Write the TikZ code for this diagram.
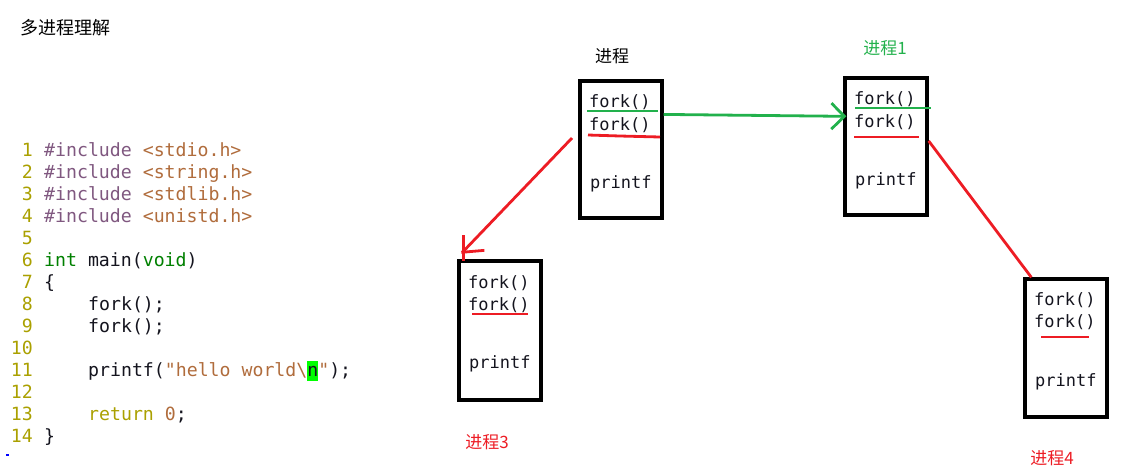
\documentclass[tikz,border=0pt]{standalone}
\usepackage{fontspec}
\usetikzlibrary{arrows.meta,calc}
\newfontfamily\codefont{DejaVu Sans Mono}
\newfontfamily\cjkfont{Noto Sans CJK SC}
\definecolor{lnum}{RGB}{170,160,0}
\definecolor{preproc}{RGB}{128,88,128}
\definecolor{strcol}{RGB}{176,108,60}
\definecolor{kwgreen}{RGB}{0,128,0}
\definecolor{hlgreen}{RGB}{0,255,0}
\definecolor{pred}{RGB}{237,28,36}
\definecolor{pgreen}{RGB}{34,177,76}
\definecolor{txtdark}{RGB}{20,20,30}
\tikzset{
  lno/.style={anchor=base east,inner sep=0pt,font=\codefont\fontsize{18.2}{20}\selectfont,text=lnum},
  code/.style={anchor=base west,inner sep=0pt,font=\codefont\fontsize{18.2}{20}\selectfont,text=txtdark},
  procbox/.style={draw=black,line width=3.3pt,minimum width=82pt,inner sep=0pt},
  btxt/.style={anchor=base west,inner sep=0pt,font=\codefont\fontsize{17}{20}\selectfont,text=txtdark},
  label/.style={inner sep=0pt,font=\cjkfont\fontsize{17}{20}\selectfont},
  redline/.style={draw=pred,line width=2.8pt},
  greenline/.style={draw=pgreen,line width=2.8pt},
}
\begin{document}
\begin{tikzpicture}[x=1pt,y=-1pt]
\useasboundingbox (0,0) rectangle (1128,475);
% title
\node[label,anchor=west,font=\cjkfont\fontsize{18}{20}\selectfont] (title) at (20,28) {多进程理解};
% code listing
\foreach \i/\n in {1/1,2/2,3/3,4/4,5/5,6/6,7/7,8/8,9/9,10/10,11/11,12/12,13/13,14/14}{
  \node[lno] (ln\i) at (33,{156+22*(\i-1)}) {\n};
}
\node[code] (c1) at (44,156) {\textcolor{preproc}{\#include} \textcolor{strcol}{<stdio.h>}};
\node[code] (c2) at (44,178) {\textcolor{preproc}{\#include} \textcolor{strcol}{<string.h>}};
\node[code] (c3) at (44,200) {\textcolor{preproc}{\#include} \textcolor{strcol}{<stdlib.h>}};
\node[code] (c4) at (44,222) {\textcolor{preproc}{\#include} \textcolor{strcol}{<unistd.h>}};
\node[code] (c6) at (44,266) {\textcolor{kwgreen}{int} main(\textcolor{kwgreen}{void})};
\node[code] (c7) at (44,288) {\{};
\node[code] (c8) at (88,310) {fork();};
\node[code] (c9) at (88,332) {fork();};
\node[code] (c11) at (88,376) {printf(\textcolor{strcol}{"hello world\textbackslash}{\setlength\fboxsep{0pt}\colorbox{hlgreen}{\rule[-5pt]{0pt}{20pt}n}}\textcolor{strcol}{"});};
\node[code] (c13) at (88,420) {\textcolor{lnum}{return} \textcolor{strcol}{0};};
\node[code] (c14) at (44,442) {\}};
\fill[blue] (6,454) rectangle (9,456);
% process boxes
\node[procbox,minimum height=137pt] (P) at (621,149.5) {};
\node[procbox,minimum height=137pt] (B1) at (886,146.5) {};
\node[procbox,minimum height=139pt] (B3) at (500,330.5) {};
\node[procbox,minimum height=138pt] (B4) at (1066,348) {};
% box texts
\node[btxt] (Pf1) at (589,107) {fork()};
\node[btxt] (Pf2) at (589,130) {fork()};
\node[btxt] (Pp) at (590,188) {printf};
\node[btxt] (B1f1) at (854,104) {fork()};
\node[btxt] (B1f2) at (854,127) {fork()};
\node[btxt] (B1p) at (855,185) {printf};
\node[btxt] (B3f1) at (468,288) {fork()};
\node[btxt] (B3f2) at (468,310) {fork()};
\node[btxt] (B3p) at (469,368) {printf};
\node[btxt] (B4f1) at (1034,305) {fork()};
\node[btxt] (B4f2) at (1034,327) {fork()};
\node[btxt] (B4p) at (1035,386) {printf};
% labels
\node[label,text=black] (LP) at (612,56) {进程};
\node[label,text=pgreen] (L1) at (885,48) {进程1};
\node[label,text=pred] (L3) at (487,442) {进程3};
\node[label,text=pred] (L4) at (1052,458) {进程4};
% underlines
\draw[greenline] (587,111) -- (658,111);
\draw[redline] (588,135) -- (620,136) -- (660,137);
\draw[greenline] (855,108) -- (931,108);
\draw[redline] (854,137) -- (919,137);
\draw[redline] (472,314) -- (528,314);
\draw[redline] (1041,337) -- (1089,337);
% connectors
\coordinate (gs) at ($(P.north east)!0.25!(P.south east)$);
\coordinate (ge) at ($(B1.north west)!0.285!(B1.south west)+(3,0)$);
\draw[greenline,-{Straight Barb[length=13pt,width=26pt,line width=2.8pt]}] (gs) -- (ge);
\coordinate (rs) at (572,138);
\coordinate (rt) at ($(B3.north west)+(5,-7)$);
\draw[redline] (rs) -- (rt);
\draw[redline] ($(rt)+(1,-17)$) -- ($(B3.north west)+(6,2)$);
\draw[redline] ($(rt)+(-1,0)$) -- ($(rt)+(22,-2)$);
\coordinate (r4s) at ($(B1.north east)!0.46!(B1.south east)$);
\draw[redline] (r4s) -- ($(B4.north west)+(8,0)$);
\end{tikzpicture}
\end{document}
